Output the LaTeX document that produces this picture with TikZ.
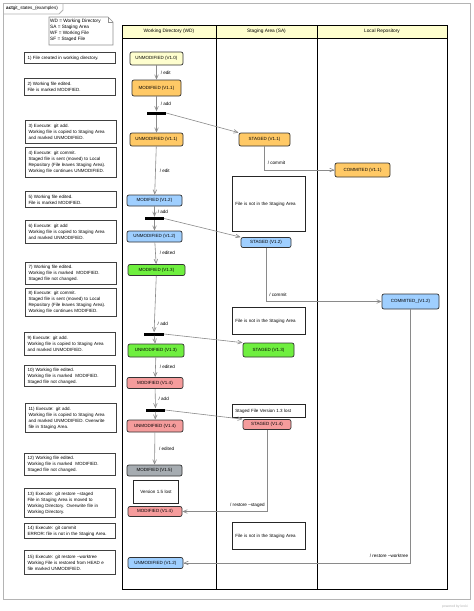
\documentclass[tikz,border=0pt]{standalone}
\usepackage{fontspec}
\setmainfont{Liberation Sans}
\usetikzlibrary{shapes,arrows,positioning}

\definecolor{hdryellow}{HTML}{FEFECE}
\definecolor{verB}{HTML}{FFC966}
\definecolor{verC}{HTML}{9FCFFF}
\definecolor{verD}{HTML}{6FEF3F}
\definecolor{verE}{HTML}{F59C9C}
\definecolor{verF}{HTML}{A6ACB1}
\definecolor{flowgray}{HTML}{8A8A8A}
\definecolor{framegray}{HTML}{B4B4B4}

\tikzstyle{state} = [draw=black!80, rectangle, rounded corners=2pt, line width=0.7pt, inner sep=0pt, font=\fontsize{4.5}{5}\selectfont]
\tikzstyle{fork} = [fill=black, rectangle, minimum height=3pt, inner sep=0pt]
\tikzstyle{stepnote} = [draw=black!75, line width=1pt, rectangle, fill=white, anchor=north west, text width=85pt, inner xsep=3pt, inner ysep=1pt, align=left, font=\fontsize{4.5}{5.9}\selectfont]
\tikzstyle{lanenote} = [draw=black!85, line width=0.8pt, rectangle, fill=white, anchor=north west, inner xsep=3pt, inner ysep=1pt, align=left, font=\fontsize{4.5}{5.9}\selectfont]
\tikzstyle{flow} = [draw=flowgray, line width=0.6pt, ->]
\tikzstyle{elabel} = [font=\fontsize{4.6}{5}\selectfont, inner sep=1pt]
\tikzstyle{header} = [font=\fontsize{4.8}{5}\selectfont]

\begin{document}
\begin{tikzpicture}[x=1pt, y=-1pt, >=angle 45]
	\useasboundingbox (0,0) rectangle (474,611);
	\fill[white] (0,0) rectangle (474,611);

	% frame and title
	\draw[framegray, line width=0.8pt] (3,3) rectangle (470,599);
	\draw[framegray, line width=0.8pt] (3,14) -- (59,14) -- (63,10) -- (63,3);
	\node[anchor=west, inner sep=0pt, font=\fontsize{4.6}{5}\selectfont] (title) at (6,8.7) {\textbf{act}git\_states\_(examples)};
	\node[anchor=east, inner sep=0pt, text=black!30, font=\fontsize{3.4}{4}\selectfont] (powered) at (468,607) {powered by kroki};

	% legend
	\draw[framegray!80!black, line width=0.6pt, fill=white] (49,17) -- (108,17) -- (113,22) -- (113,45) -- (49,45) -- cycle;
	\draw[framegray!80!black, line width=0.6pt] (108,17) |- (113,22);
	\node[anchor=north west, inner sep=0pt, align=left, font=\fontsize{4.7}{6}\selectfont] (legend) at (50,18.5) {WD = Working Directory\\SA = Staging Area\\WF = Working File\\SF = Staged File};

	% swimlanes
	\draw[fill=hdryellow, line width=0.8pt] (122,25) rectangle (447,38);
	\draw[line width=0.8pt] (122,25) rectangle (447,589);
	\draw[line width=0.8pt] (216,25) -- (216,589);
	\draw[line width=0.8pt] (317,25) -- (317,589);
	\node[header] (laneWD) at (169,31.5) {Working Directory (WD)};
	\node[header] (laneSA) at (266.5,31.5) {Staging Area (SA)};
	\node[header] (laneLR) at (382,31.5) {Local Repository};

	% step notes
	\node[stepnote, minimum height=11pt] (note1) at (24,52) {1) File created in working directory.};
	\node[stepnote, minimum height=17pt] (note2) at (24,78) {2) Working file edited.\\File is marked MODIFIED.};
	\node[stepnote, minimum height=23pt] (note3) at (25,120) {3) Execute: git add.\\Working file is copied to Staging Area\\and marked UNMODIFIED.};
	\node[stepnote, minimum height=30pt] (note4) at (25,147) {4) Execute: git commit.\\Staged file is sent (moved) to Local\\Repository (File leaves Staging Area).\\Working file continues UNMODIFIED.};
	\node[stepnote, minimum height=16pt] (note5) at (25,191) {5) Working file edited.\\File is marked MODIFIED.};
	\node[stepnote, minimum height=23pt] (note6) at (25,220) {6) Execute: git add\\Working file is copied to Staging Area\\and marked UNMODIFIED.};
	\node[stepnote, minimum height=22pt] (note7) at (25,262) {7) Working file edited.\\Working file is marked\ \ MODIFIED.\\Staged file not changed.};
	\node[stepnote, minimum height=28pt] (note8) at (25,288) {8) Execute: git commit.\\Staged file is sent (moved) to Local\\Repository (File leaves Staging Area).\\Working file continues MODIFIED.};
	\node[stepnote, minimum height=23pt] (note9) at (24,332) {9) Execute: git add.\\Working file is copied to Staging Area\\and marked UNMODIFIED.};
	\node[stepnote, minimum height=21pt] (note10) at (24,365) {10) Working file edited.\\Working file is marked\ \ MODIFIED.\\Staged file not changed.};
	\node[stepnote, minimum height=29pt] (note11) at (25,403) {11) Execute: git add.\\Working file is copied to Staging Area\\and marked UNMODIFIED. Overwrite\\file in Staging Area.};
	\node[stepnote, minimum height=22pt] (note12) at (24,453) {12) Working file edited.\\Working file is marked\ \ MODIFIED.\\Staged file not changed.};
	\node[stepnote, minimum height=29pt] (note13) at (24,488) {13) Execute: git restore --staged\\File in Staging Area is moved to\\Working Directory. Overwrite file in\\Working Directory.};
	\node[stepnote, minimum height=15pt] (note14) at (24,523) {14) Execute: git commit\\ERROR: file is not in the Staging Area.};
	\node[stepnote, minimum height=24pt] (note15) at (24,550) {15) Execute: git restore --worktree\\Working File is restored from HEAD e\\file marked UNMODIFIED.};

	% states
	\node[state, fill=hdryellow, minimum width=53pt, minimum height=13pt] (unmodA) at (156.5,58.5) {UNMODIFIED (V1.0)};
	\node[state, fill=verB, minimum width=49pt, minimum height=16pt] (modB) at (156.5,88) {MODIFIED (V1.1)};
	\node[fork, minimum width=19pt] (forkB) at (156.5,113) {};
	\node[state, fill=verB, minimum width=53pt, minimum height=13pt] (unmodB) at (156.5,139.5) {UNMODIFIED (V1.1)};
	\node[state, fill=verB, minimum width=51pt, minimum height=13pt] (stagedB) at (264.5,139.5) {STAGED (V1.1)};
	\node[state, fill=verB, minimum width=55pt, minimum height=14pt] (commitB) at (362.5,170) {COMMITED (V1.1)};

	\node[state, fill=verC, minimum width=55pt, minimum height=11pt] (modC) at (154.5,200.5) {MODIFIED (V1.2)};
	\node[fork, minimum width=19pt] (forkC) at (154.5,218.5) {};
	\node[state, fill=verC, minimum width=55pt, minimum height=11pt] (unmodC) at (154.5,236.5) {UNMODIFIED (V1.2)};
	\node[state, fill=verC, minimum width=50pt, minimum height=10pt] (stagedC) at (266,242.5) {STAGED (V1.2)};
	\node[state, fill=verC, minimum width=57pt, minimum height=15pt] (commitC) at (410.5,301.5) {COMMITED\_(V1.2)};

	\node[state, fill=verD, minimum width=57pt, minimum height=11pt] (modD) at (156.5,270) {MODIFIED (V1.3)};
	\node[fork, minimum width=20pt] (forkD) at (154,334) {};
	\node[state, fill=verD, minimum width=56pt, minimum height=13pt] (unmodD) at (156,350.5) {UNMODIFIED (V1.3)};
	\node[state, fill=verD, minimum width=51pt, minimum height=14pt] (stagedD) at (268.5,350) {STAGED (V1.3)};

	\node[state, fill=verE, minimum width=56pt, minimum height=11pt] (modE) at (155,383) {MODIFIED (V1.4)};
	\node[fork, minimum width=19pt] (forkE) at (155.5,410) {};
	\node[state, fill=verE, minimum width=56pt, minimum height=12pt] (unmodE) at (155,426) {UNMODIFIED (V1.4)};
	\node[state, fill=verE, minimum width=48pt, minimum height=10pt] (stagedE) at (267,424.5) {STAGED (V1.4)};

	\node[state, fill=verF, minimum width=55pt, minimum height=11pt] (modF) at (154.5,470.5) {MODIFIED (V1.5)};
	\node[state, fill=verE, minimum width=54pt, minimum height=10pt] (modE2) at (155,511.5) {MODIFIED (V1.4)};
	\node[state, fill=verC, minimum width=55pt, minimum height=11pt] (unmodC2) at (155.5,563) {UNMODIFIED (V1.2)};

	% lane notes
	\node[lanenote, text width=67pt, minimum height=55pt] (saNoteA) at (232,176) {File is not in the Staging Area};
	\node[lanenote, text width=67pt, minimum height=27pt] (saNoteB) at (232,307) {File is not in the Staging Area};
	\node[lanenote, text width=67pt, minimum height=13pt] (saNoteC) at (232,404) {Staged File Version 1.3 lost};
	\node[lanenote, text width=67pt, minimum height=27pt] (saNoteD) at (232,522) {File is not in the Staging Area};
	\node[lanenote, text width=39pt, minimum height=23pt, align=center] (wdNote) at (133,480) {Version 1.5 lost};

	% transitions
	\draw[flow] (unmodA) -- node[elabel, right, xshift=3pt] {/ edit} (modB);
	\draw[flow] (modB) -- node[elabel, right, xshift=3pt] {/ add} (forkB);
	\draw[flow] (forkB) -- (unmodB);
	\draw[flow] (forkB.east) -- (stagedB.north west);
	\draw[flow] (stagedB) |- node[elabel, right, pos=0.35, xshift=2pt] {/ commit} (commitB);

	\draw[flow] (unmodB) -- node[elabel, right, xshift=3pt] {/ edit} (modC);
	\draw[flow] (modC) -- node[elabel, right, xshift=2pt] {/ add} (forkC);
	\draw[flow] (forkC) -- (unmodC);
	\draw[flow] (forkC.east) -- (stagedC.north west);
	\draw[flow] (unmodC) -- node[elabel, right, xshift=3pt] {/ edited} (modD);
	\draw[flow] (stagedC) |- node[elabel, right, pos=0.44, xshift=2pt] {/ commit} (commitC);

	\draw[flow] (modD) -- node[elabel, right, pos=0.85, xshift=2pt] {/ add} (forkD);
	\draw[flow] (forkD) -- (unmodD);
	\draw[flow] (forkD.east) -- (stagedD.north west);
	\draw[flow] (unmodD) -- node[elabel, right, xshift=3pt] {/ edited} (modE);

	\draw[flow] (modE) -- node[elabel, right, xshift=2pt] {/ add} (forkE);
	\draw[flow] (forkE) -- (unmodE);
	\draw[flow] (forkE.east) -- (stagedE.north west);
	\draw[flow] (unmodE) -- node[elabel, right, xshift=3pt] {/ edited} (modF);
	\draw[flow] (stagedE) |- node[elabel, left, pos=0.46, xshift=-1pt] {/ restore --staged} (modE2);

	\draw[flow] (commitC) |- node[elabel, left, pos=0.485, xshift=-1pt] {/ restore --worktree} (unmodC2);
\end{tikzpicture}
\end{document}
